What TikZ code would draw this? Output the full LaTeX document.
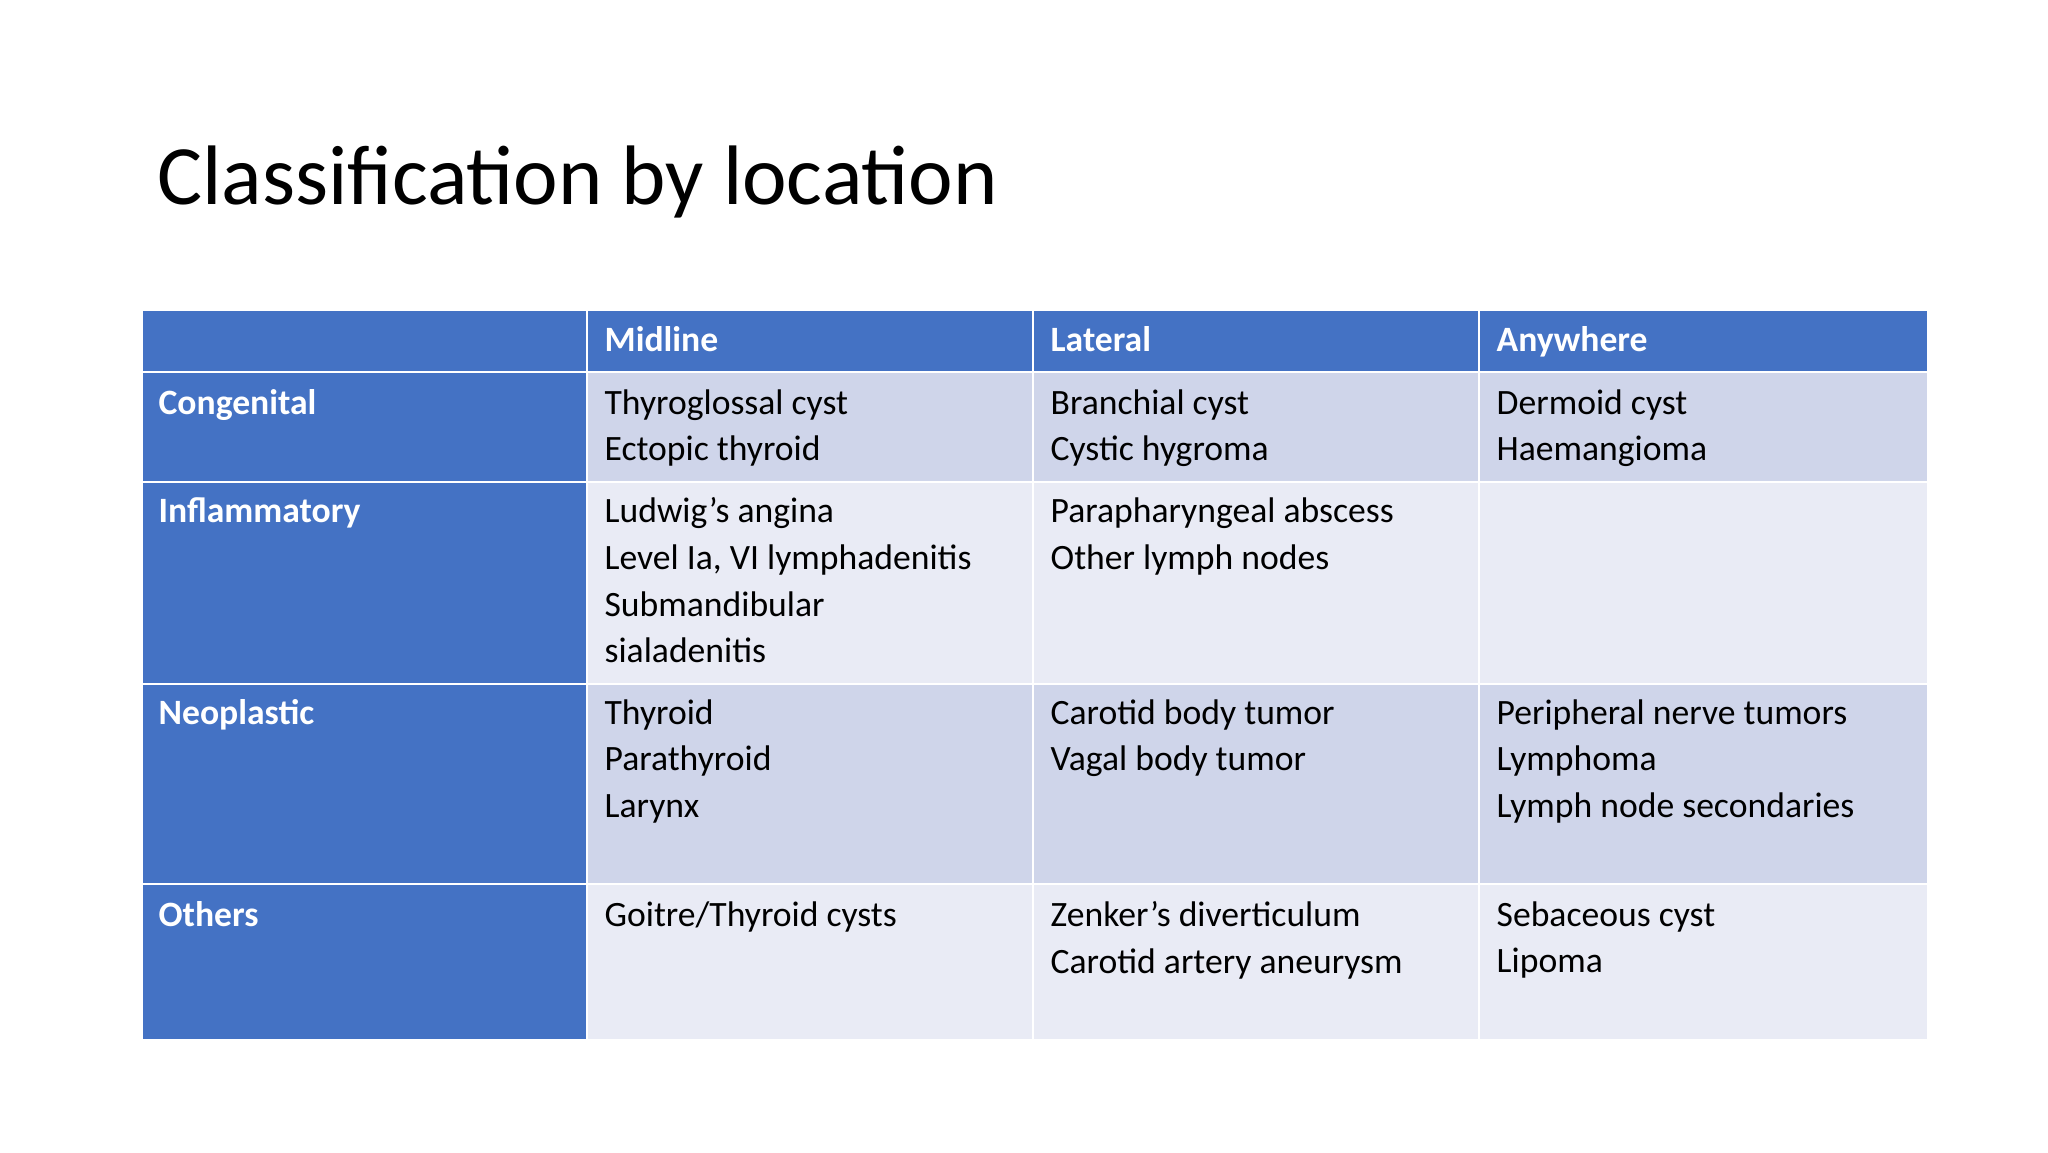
\documentclass[tikz,border=0pt]{standalone}
\usepackage{fontspec}
\setmainfont{Carlito}
\definecolor{hdr}{HTML}{4472C4}
\definecolor{rowa}{HTML}{CFD5EA}
\definecolor{rowb}{HTML}{E9EBF5}
\begin{document}
\begin{tikzpicture}[x=1pt,y=-1pt,
  cell/.style={anchor=north west,inner sep=0pt,align=left,font=\fontsize{27}{35.3}\selectfont},
  hcell/.style={cell,text=white,font=\fontsize{27}{35.3}\selectfont\bfseries}]
\useasboundingbox (0,0) rectangle (1552,873);
\fill[white] (0,0) rectangle (1552,873);
\node[anchor=base west,inner sep=0pt,font=\fontsize{64}{70}\selectfont] (title) at (119,155) {Classification by location};
% backgrounds
\fill[hdr] (108,236) rectangle (1460,281);
\fill[rowa] (108,283) rectangle (1460,365);
\fill[rowb] (108,365) rectangle (1460,518);
\fill[rowa] (108,518) rectangle (1460,670);
\fill[rowb] (108,670) rectangle (1460,787);
\fill[hdr] (108,236) rectangle (445,787);
\draw[white,line width=2pt] (108,282) -- (1460,282);
\foreach \y in {365,518,670} \draw[white,line width=1.5pt] (108,\y) -- (1460,\y);
\foreach \x in {445,783,1121} \draw[white,line width=1.5pt] (\x,236) -- (\x,787);
% header
\node[hcell] (h1) at (458,247) {Midline};
\node[hcell] (h2) at (796,247) {Lateral};
\node[hcell] (h3) at (1134,247) {Anywhere};
\node[hcell] (r1) at (120,295) {Congenital};
\node[hcell] (r2) at (120,377) {Inflammatory};
\node[hcell] (r3) at (120,530) {Neoplastic};
\node[hcell] (r4) at (120,683) {Others};
% cells
\node[cell] (c11) at (458,295) {Thyroglossal cyst\\Ectopic thyroid};
\node[cell] (c12) at (796,295) {Branchial cyst\\Cystic hygroma};
\node[cell] (c13) at (1134,295) {Dermoid cyst\\Haemangioma};
\node[cell] (c21) at (458,377) {Ludwig’s angina\\Level Ia, VI lymphadenitis\\Submandibular\\sialadenitis};
\node[cell] (c22) at (796,377) {Parapharyngeal abscess\\Other lymph nodes};
\node[cell] (c31) at (458,530) {Thyroid\\Parathyroid\\Larynx};
\node[cell] (c32) at (796,530) {Carotid body tumor\\Vagal body tumor};
\node[cell] (c33) at (1134,530) {Peripheral nerve tumors\\Lymphoma\\Lymph node secondaries};
\node[cell] (c41) at (458,683) {Goitre/Thyroid cysts};
\node[cell] (c42) at (796,683) {Zenker’s diverticulum\\Carotid artery aneurysm};
\node[cell] (c43) at (1134,683) {Sebaceous cyst\\Lipoma};
\end{tikzpicture}
\end{document}
